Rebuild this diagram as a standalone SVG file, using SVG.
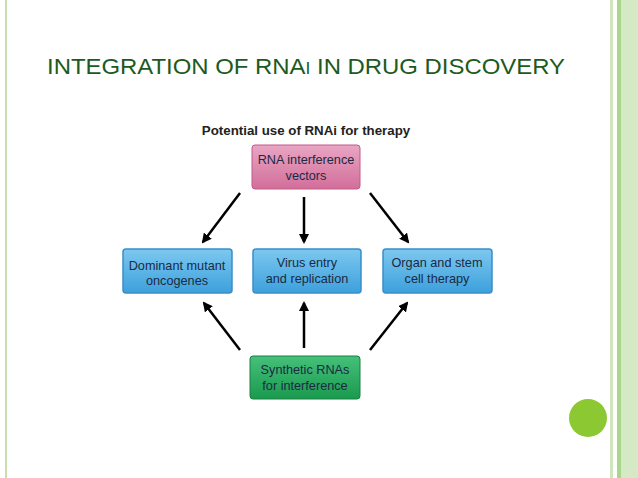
<svg xmlns="http://www.w3.org/2000/svg" width="638" height="478" viewBox="0 0 638 478">
<defs>
<style>
.t{font-family:"Liberation Sans",Arial,sans-serif;font-size:12.7px;fill:#1a2a44;text-anchor:middle}
.b{stroke:#3a8ec8;stroke-width:1.5}
.a{stroke:#000;stroke-width:2.5;fill:none;marker-end:url(#m)}
</style>
<linearGradient id="gb" x1="0" y1="0" x2="0" y2="1"><stop offset="0" stop-color="#7cc8f0"/><stop offset="1" stop-color="#3da0dc"/></linearGradient>
<linearGradient id="gp" x1="0" y1="0" x2="0" y2="1"><stop offset="0" stop-color="#e9a6c4"/><stop offset="1" stop-color="#d26e9a"/></linearGradient>
<linearGradient id="gg" x1="0" y1="0" x2="0" y2="1"><stop offset="0" stop-color="#46c07a"/><stop offset="1" stop-color="#1a9a4e"/></linearGradient>
<marker id="m" viewBox="0 0 10 10" refX="8" refY="5" markerWidth="4" markerHeight="4" orient="auto"><path d="M0,0L10,5L0,10z" fill="#000"/></marker>
</defs>
<rect width="638" height="478" fill="#fff"/>
<rect x="5" y="0" width="2" height="478" fill="#c8e0b0"/>
<rect x="610" y="0" width="3" height="478" fill="#cfe6bd"/>
<rect x="617" y="0" width="4" height="478" fill="#a8d68a"/>
<rect x="621" y="0" width="17" height="478" fill="#d4e9c4"/>
<circle cx="588" cy="418" r="19" fill="#8cc832"/>
<text x="47" y="74" font-family="Liberation Sans,Arial,sans-serif" font-size="22" fill="#1d5a1d" textLength="518" lengthAdjust="spacingAndGlyphs">INTEGRATION OF RNA<tspan font-size="16">I</tspan> IN DRUG DISCOVERY</text>
<text x="306" y="135" font-family="Liberation Sans,Arial,sans-serif" font-size="13.3" font-weight="bold" fill="#222" text-anchor="middle">Potential use of RNAi for therapy</text>
<g id="connectors">
<line class="a" x1="240" y1="193" x2="203" y2="242"/>
<line class="a" x1="304" y1="197" x2="304" y2="242"/>
<line class="a" x1="370" y1="193" x2="408" y2="242"/>
<line class="a" x1="240" y1="350" x2="204" y2="303"/>
<line class="a" x1="304" y1="348" x2="304" y2="303"/>
<line class="a" x1="370" y1="350" x2="407" y2="303"/>
</g>
<g id="vectors"><rect x="252" y="145" width="108" height="44" rx="3" fill="url(#gp)" stroke="#c05a88"/><text class="t" x="306" y="164">RNA interference</text><text class="t" x="306" y="180">vectors</text></g>
<g id="oncogenes"><rect x="123" y="249" width="109" height="44" rx="3" fill="url(#gb)" class="b"/><text class="t" x="177" y="270">Dominant mutant</text><text class="t" x="177" y="285">oncogenes</text></g>
<g id="virus"><rect x="253" y="249" width="108" height="44" rx="3" fill="url(#gb)" class="b"/><text class="t" x="307" y="267">Virus entry</text><text class="t" x="307" y="283">and replication</text></g>
<g id="organ"><rect x="383" y="249" width="109" height="44" rx="3" fill="url(#gb)" class="b"/><text class="t" x="437" y="267">Organ and stem</text><text class="t" x="437" y="283">cell therapy</text></g>
<g id="synthetic"><rect x="250" y="356" width="110" height="43" rx="3" fill="url(#gg)" stroke="#168040"/><text class="t" x="305" y="374">Synthetic RNAs</text><text class="t" x="305" y="390">for interference</text></g>
</svg>
